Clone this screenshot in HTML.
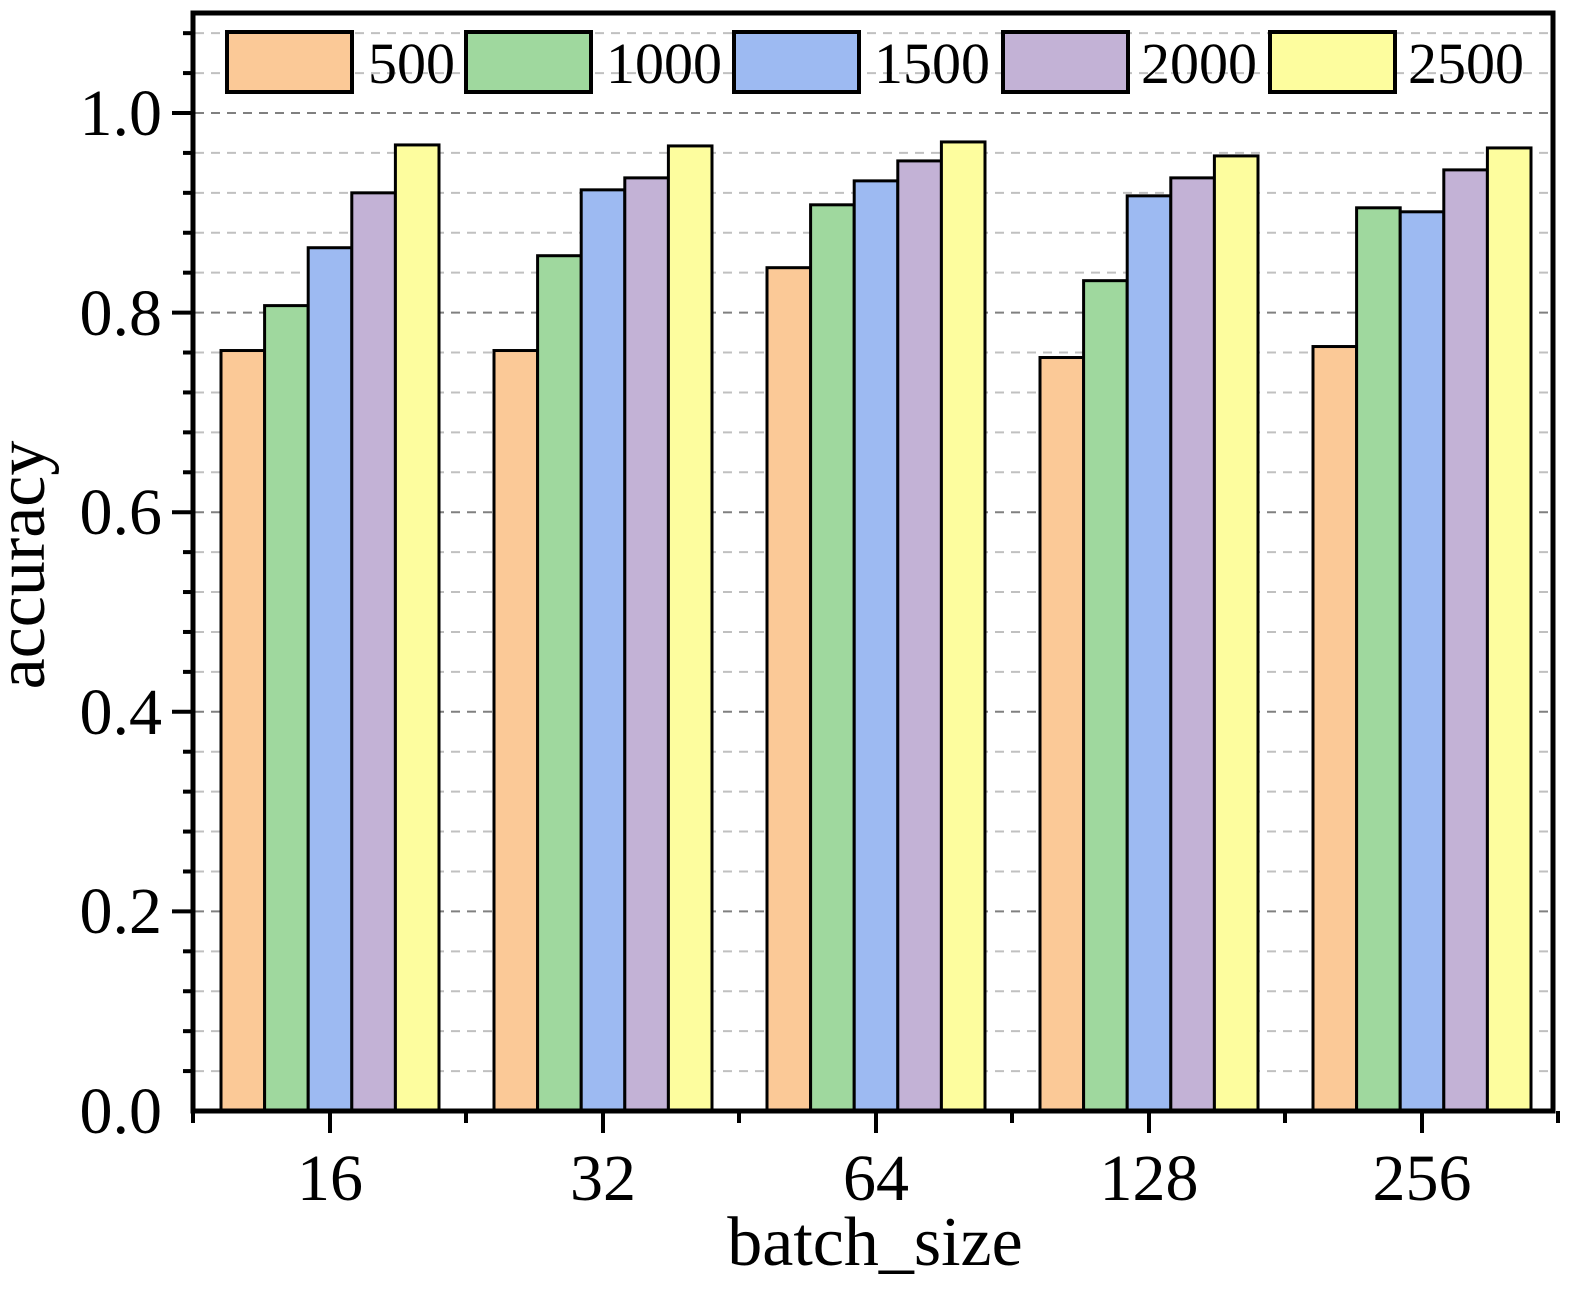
<!DOCTYPE html>
<html><head><meta charset="utf-8"><style>html,body{margin:0;padding:0;background:#fff}svg{display:block}</style></head>
<body>
<svg width="1591" height="1311" viewBox="0 0 1591 1311" xmlns="http://www.w3.org/2000/svg" font-family="Liberation Serif, serif">
<g id="grid"></g>
<g id="bars"></g>
<g id="axes"></g>
<g font-size="66" text-anchor="end" fill="#000">
<text x="162" y="1133">0.0</text>
<text x="162" y="933">0.2</text>
<text x="162" y="734">0.4</text>
<text x="162" y="534">0.6</text>
<text x="162" y="335">0.8</text>
<text x="162" y="135">1.0</text>
</g>
<g font-size="66" text-anchor="middle" fill="#000">
<text x="330" y="1200">16</text>
<text x="603" y="1200">32</text>
<text x="876" y="1200">64</text>
<text x="1149" y="1200">128</text>
<text x="1422" y="1200">256</text>
</g>
<g font-size="70" text-anchor="middle" fill="#000">
<text x="875" y="1265">batch_size</text>
<text transform="translate(44,565) rotate(-90)">accuracy</text>
</g>
<g stroke="#000" stroke-width="4">
<rect x="227" y="32" width="125" height="60" fill="#FBC997"/>
<rect x="466" y="32" width="125" height="60" fill="#9FD89E"/>
<rect x="734" y="32" width="125" height="60" fill="#9DBAF2"/>
<rect x="1003" y="32" width="125" height="60" fill="#C3B2D6"/>
<rect x="1270" y="32" width="125" height="60" fill="#FDFD9E"/>
</g>
<g font-size="58" fill="#000">
<text x="368" y="83">500</text>
<text x="606" y="83">1000</text>
<text x="874" y="83">1500</text>
<text x="1141" y="83">2000</text>
<text x="1408" y="83">2500</text>
</g>
<script>
(function(){
var ns="http://www.w3.org/2000/svg";
function el(p,t,a){var e=document.createElementNS(ns,t);for(var k in a)e.setAttribute(k,a[k]);document.getElementById(p).appendChild(e);return e;}
var y0=1111,s=998;
for(var i=1;i<=27;i++){var v=i*0.04;var y=y0-v*s;var maj=(i%5==0);
 el('grid','line',{x1:195,x2:1553,y1:y,y2:y,stroke:maj?'#808080':'#c0c0c0','stroke-width':2,'stroke-dasharray':'9,7'});
 el('axes','line',{x1:maj?172:183,x2:193,y1:y,y2:y,stroke:'#000','stroke-width':4});}
var cols=["#FBC997","#9FD89E","#9DBAF2","#C3B2D6","#FDFD9E"];
var data=[[0.762,0.807,0.865,0.92,0.968],[0.762,0.857,0.923,0.935,0.967],[0.845,0.908,0.932,0.952,0.971],[0.755,0.832,0.917,0.935,0.957],[0.766,0.905,0.901,0.943,0.965]];
var bw=43.6;
for(var g=0;g<5;g++){var c=330+g*273;for(var j=0;j<5;j++){var x=c-109+j*bw;var ty=y0-data[g][j]*s;
 el('bars','rect',{x:x,y:ty,width:bw,height:y0-ty,fill:cols[j],stroke:'#000','stroke-width':3});}}
for(var g=0;g<6;g++){var x=193+g*273;el('axes','line',{x1:x,x2:x,y1:y0,y2:y0+12,stroke:'#000','stroke-width':4});}
for(var g=0;g<5;g++){var x=330+g*273;el('axes','line',{x1:x,x2:x,y1:y0,y2:y0+22,stroke:'#000','stroke-width':4});}
el('axes','rect',{x:193,y:13,width:1360,height:1098,fill:'none',stroke:'#000','stroke-width':5});
})();
</script>
</svg>
</body></html>
